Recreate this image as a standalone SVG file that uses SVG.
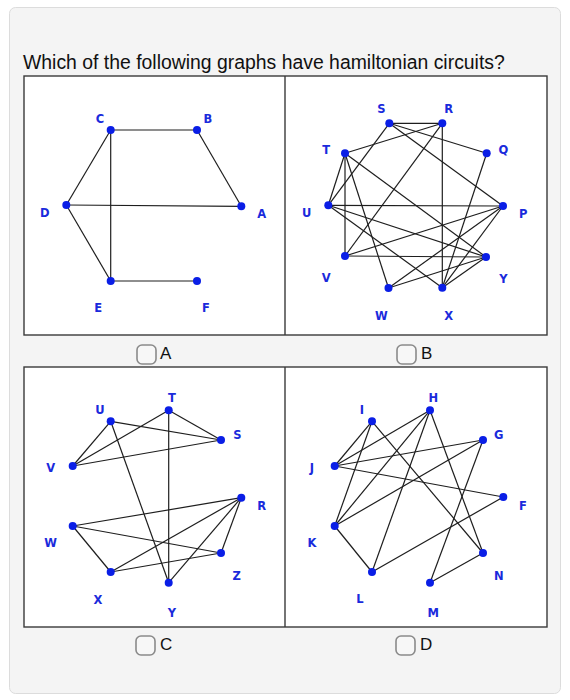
<svg xmlns="http://www.w3.org/2000/svg" width="570" height="700" viewBox="0 0 570 700">
<style>
.card{fill:#f4f4f4;stroke:#dcdcdc;stroke-width:1}
.box{fill:#ffffff;stroke:#3a3a3a;stroke-width:1.4}
.e line{stroke:#1e1e1e;stroke-width:1.2}
.n circle{fill:#0a1ee6}
.lb{font-family:"DejaVu Sans",sans-serif;font-weight:bold;font-size:11.5px;fill:#1a2adc;text-anchor:middle;dominant-baseline:central}
.q{font-family:"Liberation Sans",Arial,sans-serif;font-size:19.4px;fill:#111}
.opt{font-family:"Liberation Sans",Arial,sans-serif;font-size:17px;fill:#111}
.cb{fill:#f7f7f7;stroke:#8a8a8a;stroke-width:1.6}
</style>
<rect class="card" x="9.5" y="7.5" width="551" height="686" rx="6"/>
<text class="q" x="23" y="69">Which of the following graphs have hamiltonian circuits?</text>
<g id="frames">
<rect class="box" x="24" y="76" width="523" height="259"/>
<line x1="285" y1="76" x2="285" y2="335" stroke="#3a3a3a" stroke-width="1.4"/>
<rect class="box" x="24" y="367" width="523" height="260"/>
<line x1="285" y1="367" x2="285" y2="627" stroke="#3a3a3a" stroke-width="1.4"/>
</g>
<g id="connectors" class="e">
<!-- Graph A -->
<line x1="110.7" y1="130" x2="197" y2="130"/>
<line x1="197" y1="130" x2="241.3" y2="206.3"/>
<line x1="110.7" y1="130" x2="66.3" y2="205"/>
<line x1="110.7" y1="130" x2="110.7" y2="281"/>
<line x1="66.3" y1="205" x2="241.3" y2="206.3"/>
<line x1="66.3" y1="205" x2="110.7" y2="281"/>
<line x1="110.7" y1="281" x2="197" y2="281"/>
<!-- Graph B -->
<line x1="389.3" y1="123.3" x2="442.3" y2="123.3"/>
<line x1="389.3" y1="123.3" x2="486.7" y2="153.3"/>
<line x1="389.3" y1="123.3" x2="503" y2="206"/>
<line x1="389.3" y1="123.3" x2="328.3" y2="205.3"/>
<line x1="442.3" y1="123.3" x2="345" y2="153.3"/>
<line x1="442.3" y1="123.3" x2="442.3" y2="287.7"/>
<line x1="442.3" y1="123.3" x2="345" y2="256"/>
<line x1="345" y1="153.3" x2="328.3" y2="205.3"/>
<line x1="345" y1="153.3" x2="345" y2="256"/>
<line x1="345" y1="153.3" x2="388.5" y2="288"/>
<line x1="345" y1="153.3" x2="486" y2="257"/>
<line x1="328.3" y1="205.3" x2="503" y2="206"/>
<line x1="328.3" y1="205.3" x2="486" y2="257"/>
<line x1="328.3" y1="205.3" x2="442.3" y2="287.7"/>
<line x1="345" y1="256" x2="486" y2="257"/>
<line x1="345" y1="256" x2="503" y2="206"/>
<line x1="388.5" y1="288" x2="503" y2="206"/>
<line x1="388.5" y1="288" x2="486" y2="257"/>
<line x1="442.3" y1="287.7" x2="503" y2="206"/>
<line x1="442.3" y1="287.7" x2="486.7" y2="153.3"/>
<line x1="442.3" y1="287.7" x2="486" y2="257"/>
<!-- Graph C -->
<line x1="110.7" y1="421.3" x2="221" y2="440"/>
<line x1="110.7" y1="421.3" x2="72.7" y2="466"/>
<line x1="110.7" y1="421.3" x2="168.7" y2="582.7"/>
<line x1="168.7" y1="410.3" x2="72.7" y2="466"/>
<line x1="168.7" y1="410.3" x2="221" y2="440"/>
<line x1="168.7" y1="410.3" x2="168.7" y2="582.7"/>
<line x1="72.7" y1="466" x2="221" y2="440"/>
<line x1="72.7" y1="526" x2="241.3" y2="497.7"/>
<line x1="72.7" y1="526" x2="221" y2="553"/>
<line x1="72.7" y1="526" x2="110.7" y2="572"/>
<line x1="110.7" y1="572" x2="221" y2="553"/>
<line x1="110.7" y1="572" x2="241.3" y2="497.7"/>
<line x1="168.7" y1="582.7" x2="241.3" y2="497.7"/>
<line x1="241.3" y1="497.7" x2="221" y2="553"/>
<!-- Graph D -->
<line x1="372" y1="421.3" x2="334.7" y2="466"/>
<line x1="372" y1="421.3" x2="334.7" y2="526"/>
<line x1="372" y1="421.3" x2="483" y2="553"/>
<line x1="430" y1="410.3" x2="334.7" y2="466"/>
<line x1="430" y1="410.3" x2="334.7" y2="526"/>
<line x1="430" y1="410.3" x2="372" y2="572"/>
<line x1="430" y1="410.3" x2="483" y2="553"/>
<line x1="483" y1="440" x2="334.7" y2="466"/>
<line x1="483" y1="440" x2="334.7" y2="526"/>
<line x1="483" y1="440" x2="430" y2="582.7"/>
<line x1="334.7" y1="466" x2="503.3" y2="497"/>
<line x1="503.3" y1="497" x2="372" y2="572"/>
<line x1="334.7" y1="526" x2="372" y2="572"/>
<line x1="430" y1="582.7" x2="483" y2="553"/>
</g>
<g id="nodesA" class="n">
<g id="A-C"><circle cx="110.7" cy="130" r="4"/><text class="lb" x="100" y="119">C</text></g>
<g id="A-B"><circle cx="197" cy="130" r="4"/><text class="lb" x="208" y="119">B</text></g>
<g id="A-D"><circle cx="66.3" cy="205" r="4"/><text class="lb" x="44.7" y="212.7">D</text></g>
<g id="A-A"><circle cx="241.3" cy="206.3" r="4"/><text class="lb" x="261.7" y="213.7">A</text></g>
<g id="A-E"><circle cx="110.7" cy="281" r="4"/><text class="lb" x="98.3" y="307.7">E</text></g>
<g id="A-F"><circle cx="197" cy="281" r="4"/><text class="lb" x="206" y="307.7">F</text></g>
</g>
<g id="nodesB" class="n">
<g id="B-S"><circle cx="389.3" cy="123.3" r="4"/><text class="lb" x="381.3" y="109.3">S</text></g>
<g id="B-R"><circle cx="442.3" cy="123.3" r="4"/><text class="lb" x="448.7" y="109.3">R</text></g>
<g id="B-Q"><circle cx="486.7" cy="153.3" r="4"/><text class="lb" x="503.3" y="150">Q</text></g>
<g id="B-T"><circle cx="345" cy="153.3" r="4"/><text class="lb" x="326.3" y="150">T</text></g>
<g id="B-U"><circle cx="328.3" cy="205.3" r="4"/><text class="lb" x="306.7" y="212.7">U</text></g>
<g id="B-P"><circle cx="503" cy="206" r="4"/><text class="lb" x="523.3" y="213.7">P</text></g>
<g id="B-V"><circle cx="345" cy="256" r="4"/><text class="lb" x="326.3" y="278">V</text></g>
<g id="B-Y"><circle cx="486" cy="257" r="4"/><text class="lb" x="503.3" y="278.7">Y</text></g>
<g id="B-W"><circle cx="388.5" cy="288" r="4"/><text class="lb" x="381.3" y="316">W</text></g>
<g id="B-X"><circle cx="442.3" cy="287.7" r="4"/><text class="lb" x="448.7" y="316">X</text></g>
</g>
<g id="nodesC" class="n">
<g id="C-T"><circle cx="168.7" cy="410.3" r="4"/><text class="lb" x="172" y="397.7">T</text></g>
<g id="C-U"><circle cx="110.7" cy="421.3" r="4"/><text class="lb" x="100" y="410.3">U</text></g>
<g id="C-S"><circle cx="221" cy="440" r="4"/><text class="lb" x="237.3" y="435.3">S</text></g>
<g id="C-V"><circle cx="72.7" cy="466" r="4"/><text class="lb" x="50.7" y="467.7">V</text></g>
<g id="C-R"><circle cx="241.3" cy="497.7" r="4"/><text class="lb" x="261.7" y="506">R</text></g>
<g id="C-W"><circle cx="72.7" cy="526" r="4"/><text class="lb" x="50.7" y="542.7">W</text></g>
<g id="C-Z"><circle cx="221" cy="553" r="4"/><text class="lb" x="236.7" y="576">Z</text></g>
<g id="C-X"><circle cx="110.7" cy="572" r="4"/><text class="lb" x="98" y="600">X</text></g>
<g id="C-Y"><circle cx="168.7" cy="582.7" r="4"/><text class="lb" x="172" y="612.7">Y</text></g>
</g>
<g id="nodesD" class="n">
<g id="D-H"><circle cx="430" cy="410.3" r="4"/><text class="lb" x="433.3" y="397.7">H</text></g>
<g id="D-I"><circle cx="372" cy="421.3" r="4"/><text class="lb" x="362" y="410.3">I</text></g>
<g id="D-G"><circle cx="483" cy="440" r="4"/><text class="lb" x="498.7" y="435.3">G</text></g>
<g id="D-J"><circle cx="334.7" cy="466" r="4"/><text class="lb" x="312" y="467.7">J</text></g>
<g id="D-F"><circle cx="503.3" cy="497" r="4"/><text class="lb" x="523" y="506">F</text></g>
<g id="D-K"><circle cx="334.7" cy="526" r="4"/><text class="lb" x="312" y="542.7">K</text></g>
<g id="D-N"><circle cx="483" cy="553" r="4"/><text class="lb" x="498.7" y="576">N</text></g>
<g id="D-L"><circle cx="372" cy="572" r="4"/><text class="lb" x="360" y="599.3">L</text></g>
<g id="D-M"><circle cx="430" cy="582.7" r="4"/><text class="lb" x="433.3" y="612.7">M</text></g>
</g>
<g id="options">
<g id="optA"><rect class="cb" x="137" y="345" width="19" height="19" rx="5"/><text class="opt" x="160" y="359">A</text></g>
<g id="optB"><rect class="cb" x="397" y="345" width="19" height="19" rx="5"/><text class="opt" x="421" y="359">B</text></g>
<g id="optC"><rect class="cb" x="136" y="636" width="19" height="19" rx="5"/><text class="opt" x="160" y="650">C</text></g>
<g id="optD"><rect class="cb" x="396" y="636" width="19" height="19" rx="5"/><text class="opt" x="420" y="650">D</text></g>
</g>
</svg>
